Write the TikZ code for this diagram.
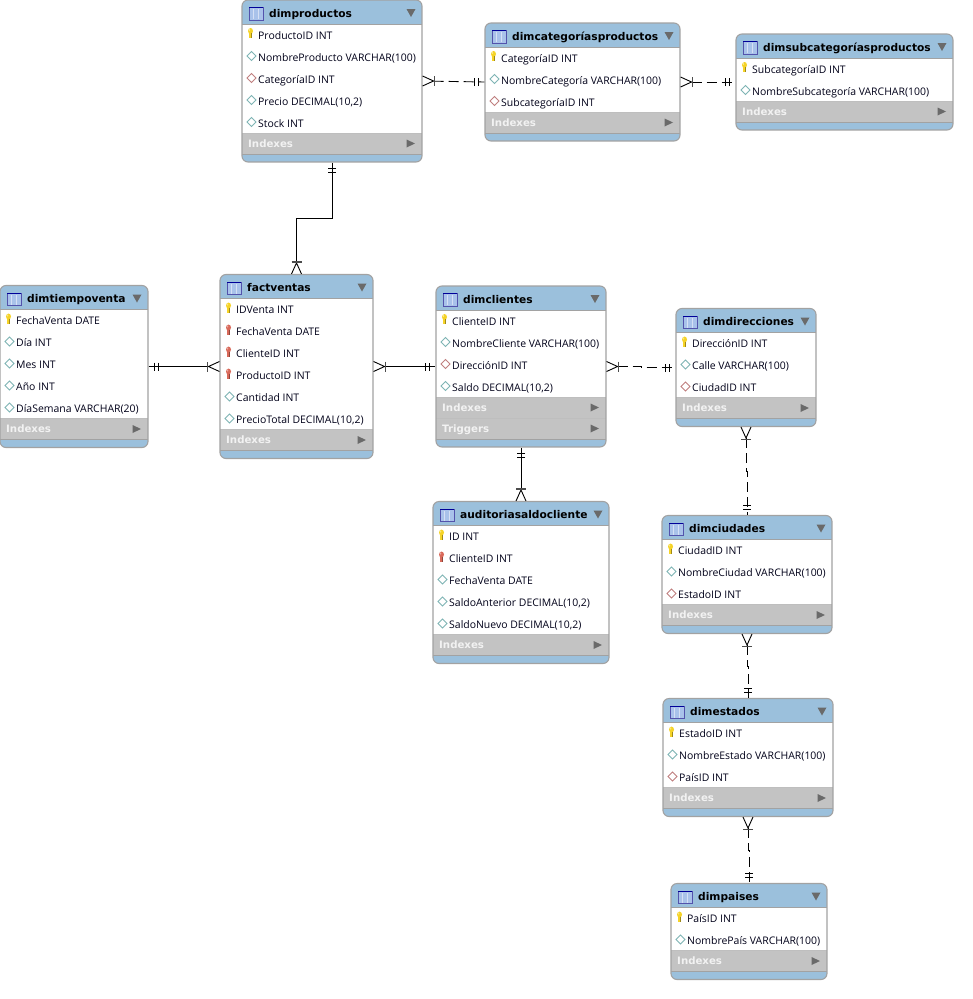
\documentclass[tikz,border=0pt]{standalone}
\usepackage{fontspec}
\usetikzlibrary{calc}
\setmainfont{Open Sans}
\newfontfamily\titlefont{DejaVu Sans}
\definecolor{hdr}{HTML}{9BC0DC}
\definecolor{edge}{HTML}{A2A2A2}
\definecolor{band}{HTML}{C3C3C3}
\definecolor{tri}{HTML}{6A6A6A}
\definecolor{keyy}{HTML}{F5D327}
\definecolor{keyr}{HTML}{D9695A}
\definecolor{dteal}{HTML}{7FB5B5}
\definecolor{dred}{HTML}{C08080}
\definecolor{iconfill}{HTML}{A9C2EA}
\definecolor{iconline}{HTML}{D5E0F5}
\tikzset{
  x=1pt,y=-1pt,
  tablebox/.style={draw=edge,line width=1.1pt,rounded corners=6pt,inner sep=0pt,minimum width=#1},
  rowtext/.style={anchor=base west,inner sep=0pt,font=\fontsize{10.45}{12}\selectfont,text=black!90!blue},
  titletext/.style={anchor=base west,inner sep=0pt,font=\titlefont\bfseries\fontsize{10.65}{12}\selectfont,text=black},
  bandtext/.style={anchor=base west,inner sep=0pt,font=\titlefont\bfseries\fontsize{10.2}{12}\selectfont,text=white!95!black},
  rel/.style={line width=0.9pt,black},
  reldash/.style={rel,dash pattern=on 10pt off 5pt},
  pics/crow/.style={code={
    \draw[rel] (0,-5) -- (11,0) -- (0,5);
    \draw[line width=1.1pt,black!70] (12,-5) -- (12,5);}},
  pics/onebar/.style={code={
    \draw[line width=0.9pt,black] (6,-4) -- (6,4) (10,-4) -- (10,4);}}
}
\newcommand{\keyicon}[3]{% x, y, colour
  \fill[#3] (#1+2.5,#2-3) ellipse[x radius=2.5,y radius=3];
  \fill[#3] (#1+1.3,#2-1) rectangle (#1+3.7,#2+4);
  \fill[white,opacity=.45] (#1+1.5,#2-4) ellipse[x radius=.8,y radius=1.2];
  \draw[#3!65!black,line width=.5pt] (#1+3.7,#2-1) -- (#1+3.7,#2+4);
}
\newcommand{\diaicon}[3]{% x centre, y, colour
  \draw[#3,line width=.8pt,fill=white] (#1-4.5,#2) -- (#1,#2-4.5) -- (#1+4.5,#2) -- (#1,#2+4.5) -- cycle;
}
\newcommand{\rowicon}[4]{% type x1 y
  \ifx#1k\keyicon{#2+6}{#3}{keyy}\fi
  \ifx#1f\keyicon{#2+6}{#3}{keyr}\fi
  \ifx#1t\diaicon{#2+9.5}{#3}{dteal}\fi
  \ifx#1r\diaicon{#2+9.5}{#3}{dred}\fi
}
% name, x1, y1, x2, number of bands, rows
\newcommand{\dbtable}[6]{%
  \pgfmathsetmacro{\wid}{#4-#2}
  \foreach \ty/\tx [count=\ci] in {#6} {\global\let\lastcount\ci}
  \pgfmathsetmacro{\bodyend}{#3+24+22*\lastcount-1}
  \pgfmathsetmacro{\bandend}{\bodyend+21*#5}
  \pgfmathsetmacro{\tblend}{\bandend+8}
  \begin{scope}
    \clip[rounded corners=6pt] (#2,#3) rectangle (#4,\tblend);
    \fill[hdr] (#2,#3) rectangle (#4,\tblend);
    \fill[white] (#2,#3+24) rectangle (#4,\bodyend);
    \fill[band] (#2,\bodyend) rectangle (#4,\bandend);
    \draw[edge,line width=.8pt] (#2,#3+24) -- (#4,#3+24);
    \foreach \bi in {1,...,#5} \draw[edge!70!white,line width=.8pt] (#2,\bodyend+21*\bi-21) -- (#4,\bodyend+21*\bi-21);
    \draw[edge,line width=.8pt] (#2,\bandend) -- (#4,\bandend);
  \end{scope}
  \node[tablebox=\wid pt,minimum height={(\tblend-#3)*1pt}] (#1) at ({(#2+#4)/2},{(#3+\tblend)/2}) {};
  % title
  \fill[iconfill] (#2+7,#3+7) rectangle (#2+21,#3+20);
  \draw[iconline,line width=.8pt] (#2+11.5,#3+9) -- (#2+11.5,#3+19) (#2+16,#3+9) -- (#2+16,#3+19);
  \draw[blue!35!gray,line width=.5pt] (#2+7,#3+7.5) rectangle (#2+21,#3+20);
  \draw[blue!60!black,line width=1pt] (#2+7,#3+7.5) -- (#2+21,#3+7.5);
  \node[titletext] (#1-title) at (#2+27,#3+17) {#1};
  \fill[tri] (#4-15.5,#3+9) -- (#4-6.5,#3+9) -- (#4-11,#3+17) -- cycle;
  % rows
  \foreach \ty/\tx [count=\ci] in {#6} {
    \pgfmathsetmacro{\ry}{#3+34+22*(\ci-1)}
    \expandafter\rowicon\ty{#2}{\ry}{}
    \node[rowtext] (#1-r\ci) at (#2+16,\ry+5) {\tx};
  }
  % bands
  \node[bandtext] (#1-indexes) at (#2+6,\bodyend+14) {Indexes};
  \fill[tri] (#4-15.5,\bodyend+6.5) -- (#4-15.5,\bodyend+14.5) -- (#4-7,\bodyend+10.5) -- cycle;
  \ifnum#5>1
    \node[bandtext] (#1-triggers) at (#2+6,\bodyend+35) {Triggers};
    \fill[tri] (#4-15.5,\bodyend+27.5) -- (#4-15.5,\bodyend+35.5) -- (#4-7,\bodyend+31.5) -- cycle;
  \fi
}
\begin{document}
\begin{tikzpicture}
\useasboundingbox (0,0) rectangle (973,999);
\fill[white] (0,0) rectangle (973,999);
\dbtable{dimproductos}{242}{0}{422}{1}{k/ProductoID INT,t/NombreProducto VARCHAR(100),r/CategoríaID INT,t/{Precio DECIMAL(10,2)},t/Stock INT}
\dbtable{dimcategoríasproductos}{485}{23}{680}{1}{k/CategoríaID INT,t/NombreCategoría VARCHAR(100),r/SubcategoríaID INT}
\dbtable{dimsubcategoríasproductos}{736}{34}{953}{1}{k/SubcategoríaID INT,t/NombreSubcategoría VARCHAR(100)}
\dbtable{factventas}{220}{274.5}{373}{1}{k/IDVenta INT,f/FechaVenta DATE,f/ClienteID INT,f/ProductoID INT,t/Cantidad INT,t/{PrecioTotal DECIMAL(10,2)}}
\dbtable{dimtiempoventa}{0}{285.5}{148}{1}{k/FechaVenta DATE,t/Día INT,t/Mes INT,t/Año INT,t/DíaSemana VARCHAR(20)}
\dbtable{dimclientes}{436}{286}{606}{2}{k/ClienteID INT,t/NombreCliente VARCHAR(100),r/DirecciónID INT,t/{Saldo DECIMAL(10,2)}}
\dbtable{dimdirecciones}{676}{308.5}{816}{1}{k/DirecciónID INT,t/Calle VARCHAR(100),r/CiudadID INT}
\dbtable{auditoriasaldocliente}{433}{501.5}{609}{1}{k/ID INT,f/ClienteID INT,t/FechaVenta DATE,t/{SaldoAnterior DECIMAL(10,2)},t/{SaldoNuevo DECIMAL(10,2)}}
\dbtable{dimciudades}{662}{515.5}{832}{1}{k/CiudadID INT,t/NombreCiudad VARCHAR(100),r/EstadoID INT}
\dbtable{dimestados}{663}{698.5}{833}{1}{k/EstadoID INT,t/NombreEstado VARCHAR(100),r/PaísID INT}
\dbtable{dimpaises}{671}{883.5}{827}{1}{k/PaísID INT,t/NombrePaís VARCHAR(100)}
% connectors
\draw[reldash,shorten <=11pt] (dimproductos.east) -- (dimcategoríasproductos.west);
\pic[rotate=0] at (dimproductos.east) {crow};
\pic[rotate=180] at (dimcategoríasproductos.west) {onebar};
\draw[reldash,shorten <=11pt] (dimcategoríasproductos.east) -- (dimsubcategoríasproductos.west);
\pic[rotate=0] at (dimcategoríasproductos.east) {crow};
\pic[rotate=180] at (dimsubcategoríasproductos.west) {onebar};
\coordinate (m1) at ($(dimproductos.south)!.5!(factventas.north)$);
\draw[rel,shorten >=11pt] (dimproductos.south) |- (m1) -| (factventas.north);
\pic[rotate=-90] at (dimproductos.south) {onebar};
\pic[rotate=90] at (factventas.north) {crow};
\draw[rel,shorten >=11pt] (dimtiempoventa.east) -- (factventas.west);
\pic[rotate=0] at (dimtiempoventa.east) {onebar};
\pic[rotate=180] at (factventas.west) {crow};
\draw[rel,shorten <=11pt] (factventas.east) -- (dimclientes.west);
\pic[rotate=0] at (factventas.east) {crow};
\pic[rotate=180] at (dimclientes.west) {onebar};
\coordinate (m2) at ($(dimclientes.east)!.5!(dimdirecciones.west)$);
\draw[reldash,shorten <=11pt] (dimclientes.east) -| (m2) |- (dimdirecciones.west);
\pic[rotate=0] at (dimclientes.east) {crow};
\pic[rotate=180] at (dimdirecciones.west) {onebar};
\draw[rel,shorten >=11pt] (dimclientes.south) -- (auditoriasaldocliente.north);
\pic[rotate=-90] at (dimclientes.south) {onebar};
\pic[rotate=90] at (auditoriasaldocliente.north) {crow};
\coordinate (m3) at ($(dimdirecciones.south)!.5!(dimciudades.north)$);
\draw[reldash,shorten <=11pt] (dimdirecciones.south) |- (m3) -| (dimciudades.north);
\pic[rotate=-90] at (dimdirecciones.south) {crow};
\pic[rotate=90] at (dimciudades.north) {onebar};
\coordinate (m4) at ($(dimciudades.south)!.5!(dimestados.north)$);
\draw[reldash,shorten <=11pt] (dimciudades.south) |- (m4) -| (dimestados.north);
\pic[rotate=-90] at (dimciudades.south) {crow};
\pic[rotate=90] at (dimestados.north) {onebar};
\coordinate (m5) at ($(dimestados.south)!.5!(dimpaises.north)$);
\draw[reldash,shorten <=11pt] (dimestados.south) |- (m5) -| (dimpaises.north);
\pic[rotate=-90] at (dimestados.south) {crow};
\pic[rotate=90] at (dimpaises.north) {onebar};
\end{tikzpicture}
\end{document}
